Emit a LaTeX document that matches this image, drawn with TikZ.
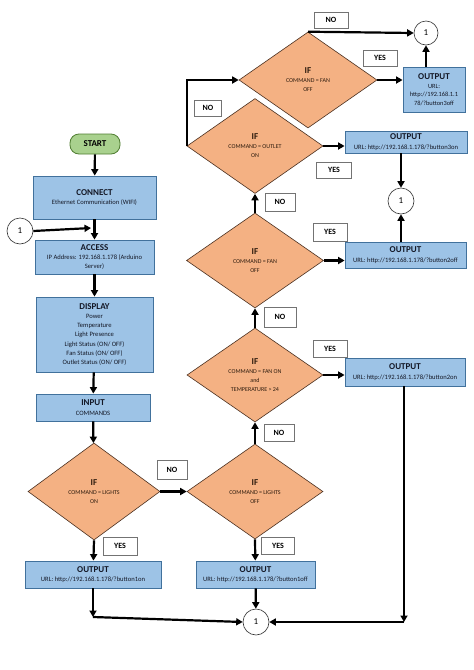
\documentclass[tikz,border=0pt]{standalone}
\usepackage{fontspec}
\setmainfont{Carlito}
\usepackage{tikz}
\usetikzlibrary{arrows.meta,shapes.geometric,positioning}

\definecolor{azul}{HTML}{9DC3E6}
\definecolor{azulborda}{HTML}{41719C}
\definecolor{laranja}{HTML}{F4B183}
\definecolor{laranjaborda}{HTML}{4A3020}
\definecolor{verde}{HTML}{A9D18E}
\definecolor{verdeborda}{HTML}{507E32}
\definecolor{texto}{HTML}{141826}
\definecolor{textodec}{HTML}{2E1C0E}

\newcommand{\titulo}[1]{{\fontsize{9}{10.5}\selectfont\bfseries #1}}

\tikzset{
  caixa/.style={draw=azulborda, fill=azul, line width=0.8pt, align=center,
    inner sep=1pt, text=texto, font=\fontsize{6.6}{9.3}\selectfont},
  decisao/.style={diamond, draw=laranjaborda, fill=laranja, line width=0.6pt,
    align=center, inner sep=0pt, text=textodec, font=\fontsize{6}{9}\selectfont},
  rotulo/.style={draw=black!55, fill=white, line width=0.9pt, inner sep=0pt,
    font=\fontsize{8}{9}\selectfont\bfseries},
  conector/.style={circle, draw=black!80, fill=white, line width=0.6pt,
    minimum size=26pt, inner sep=0pt, font=\fontsize{9}{10}\selectfont},
  seta/.style={line width=2.2pt, -{Triangle[length=6.5pt,width=7pt]}}
}

\begin{document}
\begin{tikzpicture}[x=1pt,y=-1pt]
  \useasboundingbox[fill=white] (0,0) rectangle (474,670);

  % coluna da esquerda
  \node[draw=verdeborda, fill=verde, line width=0.8pt, rounded corners=9pt,
    minimum width=50pt, minimum height=20pt, inner sep=0pt] (start) at (95,144)
    {\titulo{START}};
  \node[caixa, minimum width=123pt, minimum height=43pt] (connect) at (94.5,197.5)
    {\titulo{CONNECT}\\Ethernet Communication (WIFI)};
  \node[caixa, minimum width=119pt, minimum height=34pt] (access) at (94.5,257)
    {\titulo{ACCESS}\\IP Address: 192.168.1.178 (Arduino\\Server)};
  \node[caixa, minimum width=117pt, minimum height=75pt] (display) at (94.5,334.5)
    {\titulo{DISPLAY}\\Power\\Temperature\\Light Presence\\Light Status (ON/ OFF)\\
     Fan Status (ON/ OFF)\\Outlet Status (ON/ OFF)};
  \node[caixa, minimum width=114pt, minimum height=27pt] (input) at (93,407.5)
    {\titulo{INPUT}\\COMMANDS};
  \node[decisao, minimum width=132pt, minimum height=97pt] (lightson) at (94,491.5)
    {\titulo{IF}\\COMMAND = LIGHTS\\ON};
  \node[caixa, minimum width=136pt, minimum height=27pt] (out1on) at (93,574.5)
    {\titulo{OUTPUT}\\URL: http://192.168.1.178/?button1on};
  \node[conector] (c1esq) at (20,231) {1};
  \coordinate (junta) at (91,228);

  % coluna do meio
  \node[decisao, minimum width=136pt, minimum height=95pt] (lightsoff) at (255,491.5)
    {\titulo{IF}\\COMMAND = LIGHTS\\OFF};
  \node[caixa, minimum width=119pt, minimum height=27pt] (out1off) at (255.5,574.5)
    {\titulo{OUTPUT}\\URL: http://192.168.1.178/?button1off};
  \node[conector] (c1baixo) at (256,622) {1};
  \node[decisao, minimum width=136pt, minimum height=94pt] (fanon) at (255,375)
    {\titulo{IF}\\COMMAND = FAN ON\\and\\TEMPERATURE > 24};
  \node[decisao, minimum width=137pt, minimum height=95pt] (fanoff) at (255,260.5)
    {\titulo{IF}\\COMMAND = FAN\\OFF};
  \node[decisao, minimum width=136pt, minimum height=95pt] (outleton) at (255,146)
    {\titulo{IF}\\COMMAND = OUTLET\\ON};
  \node[decisao, minimum width=138pt, minimum height=96pt] (outletoff) at (308,80)
    {\titulo{IF}\\COMMAND = FAN\\OFF};

  % coluna da direita
  \node[caixa, minimum width=120pt, minimum height=28pt] (out2on) at (405,372)
    {\titulo{OUTPUT}\\URL: http://192.168.1.178/?button2on};
  \node[caixa, minimum width=121pt, minimum height=26pt] (out2off) at (405.5,255)
    {\titulo{OUTPUT}\\URL: http://192.168.1.178/?button2off};
  \node[conector] (c1dir) at (401,201) {1};
  \node[caixa, minimum width=122pt, minimum height=22pt] (out3on) at (406,142)
    {\titulo{OUTPUT}\\URL: http://192.168.1.178/?button3on};
  \node[caixa, minimum width=62pt, minimum height=45pt,
    font=\fontsize{6.4}{8.5}\selectfont] (out3off) at (434,89.5)
    {\titulo{OUTPUT}\\URL:\\http://192.168.1.1\\78/?button3off};
  \node[conector, minimum size=24pt] (c1topo) at (426,33) {1};
  \coordinate (canto1) at (93,617);
  \coordinate (canto2) at (404,622);

  % rotulos sim / nao
  \node[rotulo, minimum width=30pt, minimum height=19pt] (no1) at (172,470) {NO};
  \node[rotulo, minimum width=34pt, minimum height=18pt] (yes1) at (120,546) {YES};
  \node[rotulo, minimum width=33pt, minimum height=17pt] (yes2) at (278,545.5) {YES};
  \node[rotulo, minimum width=30pt, minimum height=17pt] (no2) at (279,432.5) {NO};
  \node[rotulo, minimum width=34pt, minimum height=17pt] (yes3) at (330,348.5) {YES};
  \node[rotulo, minimum width=32pt, minimum height=20pt] (no3) at (280,317) {NO};
  \node[rotulo, minimum width=34pt, minimum height=18pt] (yes4) at (330,232) {YES};
  \node[rotulo, minimum width=30pt, minimum height=18pt] (no4) at (280,202) {NO};
  \node[rotulo, minimum width=35pt, minimum height=16pt] (yes5) at (334,170) {YES};
  \node[rotulo, minimum width=27pt, minimum height=16pt] (no5) at (208,108) {NO};
  \node[rotulo, minimum width=34pt, minimum height=16pt] (yes6) at (380,58) {YES};
  \node[rotulo, minimum width=34pt, minimum height=16pt] (no6) at (331,20) {NO};

  % setas
  \draw[seta] (start) -- (connect);
  \draw[seta] (connect) -- (access);
  \draw[seta] (c1esq.east) -- (junta);
  \draw[seta] (access) -- (display);
  \draw[seta] (display) -- (input);
  \draw[seta] (input) -- (lightson);
  \draw[seta] (lightson.east) -- (lightsoff.west);
  \draw[seta] (lightson.south) -- (out1on);
  \draw[seta] (lightsoff.south) -- (out1off);
  \draw[seta] (out1off) -- (c1baixo);
  \draw[seta] (out1on.south) -- (canto1);
  \draw[seta] (canto1) -- (c1baixo.west);
  \draw[seta] (lightsoff.north) -- (fanon.south);
  \draw[seta] (fanon.east) -- (fanon.east -| out2on.west);
  \draw[seta] (out2on.south -| canto2) -- (canto2);
  \draw[seta] (canto2) -- (c1baixo.east);
  \draw[seta] (fanon.north) -- (fanoff.south);
  \draw[seta] (fanoff.east) -- (fanoff.east -| out2off.west);
  \draw[seta] (out2off.north -| c1dir) -- (c1dir.south);
  \draw[seta] (fanoff.north) -- (outleton.south);
  \draw[seta] (outleton.east) -- (outleton.east -| out3on.west);
  \draw[seta] (out3on.south -| c1dir) -- (c1dir.north);
  \draw[seta] (outleton.west) -- (outleton.west |- outletoff.west) -- (outletoff.west);
  \draw[seta] (outletoff.north) -- (c1topo.west);
  \draw[seta] (outletoff.east) -- (outletoff.east -| out3off.west);
  \draw[seta] (out3off.north -| c1topo) -- (c1topo.south);
\end{tikzpicture}
\end{document}
